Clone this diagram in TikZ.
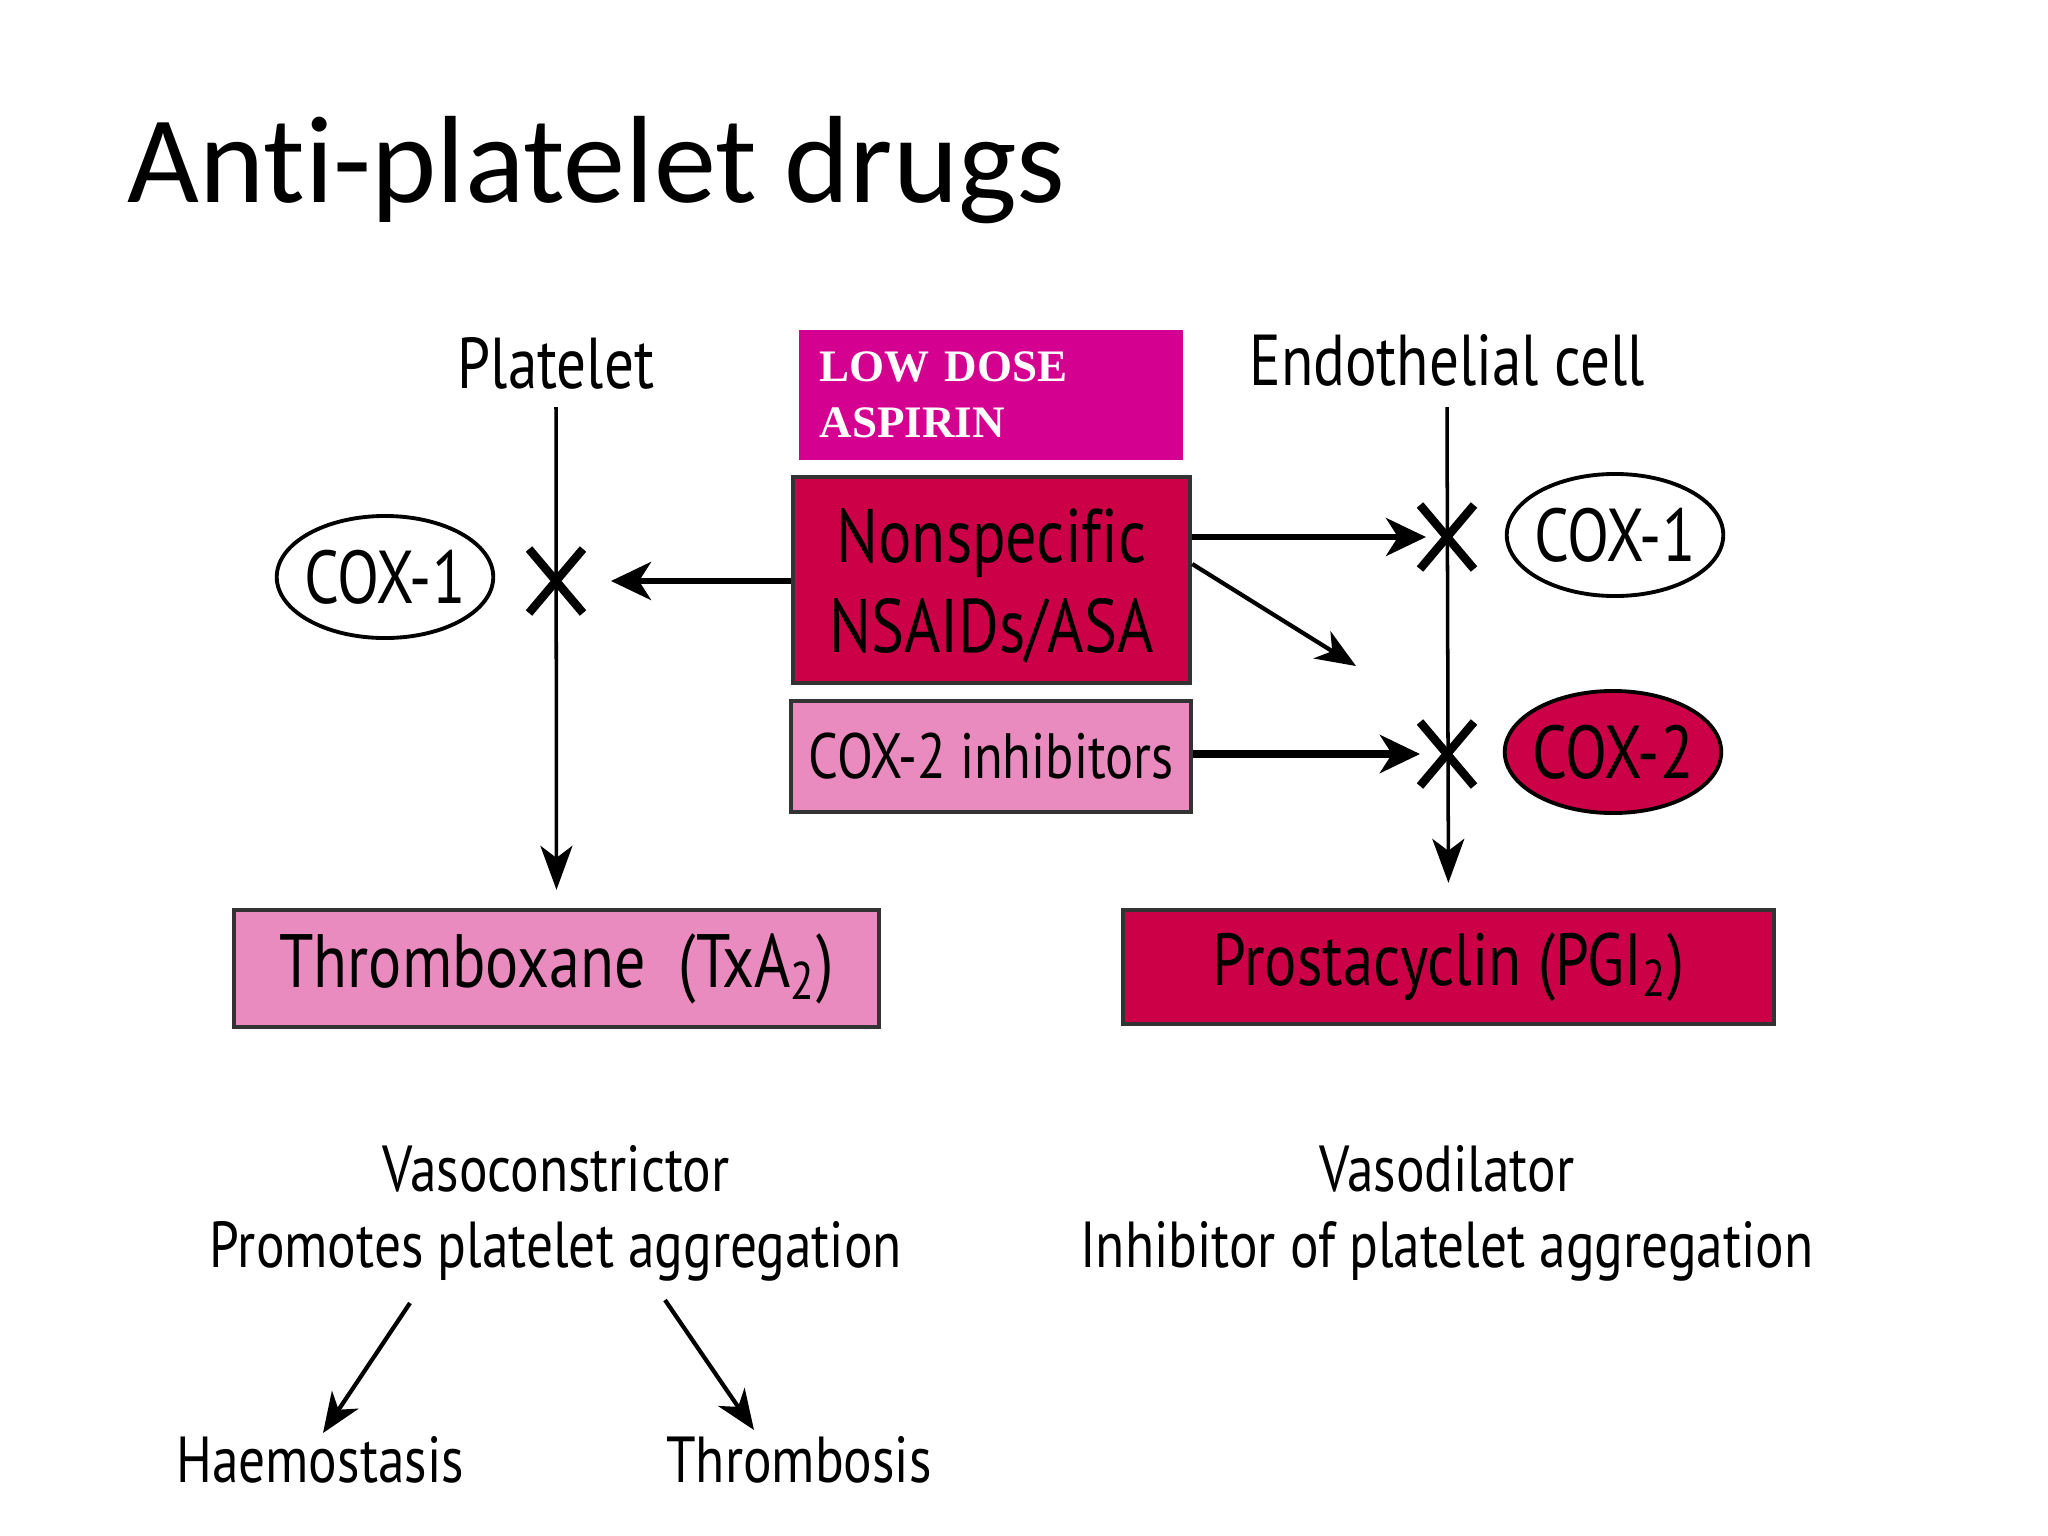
\documentclass[tikz,border=0pt]{standalone}
\usepackage{fontspec}
\usetikzlibrary{arrows.meta,shapes.geometric,shapes.misc}
\setmainfont{PT Sans}[FakeStretch=0.82,Ligatures={NoCommon}]
\newfontfamily\titlefont{Carlito}[Ligatures={NoCommon}]
\newfontfamily\ldfont{Liberation Serif}
\definecolor{mag}{HTML}{D4008F}
\definecolor{crim}{HTML}{CC0047}
\definecolor{pnk}{HTML}{E98BBE}
\begin{document}
\begin{tikzpicture}[x=0.01cm,y=-0.01cm,
  lbl/.style={font=\fontsize{20.5}{24}\selectfont, inner sep=0},
  lbls/.style={font=\fontsize{18.5}{22}\selectfont, inner sep=0},
  box/.style={draw=black!80, line width=1.2pt, inner sep=0},
  ell/.style={ellipse, draw, line width=1.1pt, inner ysep=0, inner xsep=-0.4mm, minimum width=2.16cm, minimum height=1.22cm, font=\fontsize{21.3}{25}\selectfont},
  xmark/.style={cross out, draw, line width=2.4pt, minimum width=5.4mm, minimum height=6.4mm, inner sep=0, outer sep=0},
  vline/.style={line width=1pt, -{Stealth[length=4.4mm,width=3.2mm,inset=1.2mm]}},
  arr/.style={line width=1.6pt, -{Stealth[length=4mm,width=3.8mm,inset=1.2mm]}},
  thinarr/.style={line width=1.2pt, -{Stealth[length=4mm,width=3.2mm,inset=1.2mm]}}
]
\useasboundingbox (0,0) rectangle (2048,1536);

% title
\node[anchor=base west, font=\titlefont\fontsize{35.3}{40}\selectfont, inner sep=0] (title) at (127,202) {Anti-platelet drugs};

% column headers
\node[lbl, anchor=base] (plt) at (556,388) {Platelet};
\node[lbl, anchor=base] (endo) at (1447,385) {Endothelial cell};

% drug boxes
\node[fill=mag, minimum width=3.84cm, minimum height=1.3cm, inner ysep=0, inner xsep=0.21cm, text width=3.42cm, align=left, text=white, font=\ldfont\bfseries\fontsize{12.8}{15.8}\selectfont] (lda) at (991,395) {LOW DOSE\\ASPIRIN};
\node[box, fill=crim, minimum width=3.97cm, minimum height=2.06cm, align=center, text depth=0pt, font=\fontsize{21.6}{25.6}\selectfont] (ns) at (991.5,580) {Nonspecific\\NSAIDs/ASA};
\node[box, fill=pnk, minimum width=4cm, minimum height=1.11cm, font=\fontsize{18.2}{22}\selectfont] (c2i) at (991,756.5) {COX-2 inhibitors};

% product boxes
\node[box, fill=pnk, minimum width=6.45cm, minimum height=1.17cm, font=\fontsize{21.5}{24}\selectfont] (tbx) at (556.5,968.5) {Thromboxane\ \ (TxA\textsubscript{2})};
\node[box, fill=crim, minimum width=6.51cm, minimum height=1.14cm, font=\fontsize{21}{24}\selectfont] (pbx) at (1448.5,967) {Prostacyclin (PGI\textsubscript{2})};

% enzymes
\node[ell] (cox1l) at (385,577) {COX-1};
\node[ell] (cox1r) at (1615,535) {COX-1};
\node[ell, fill=crim] (cox2) at (1613,752) {COX-2};

% pathway lines
\coordinate (ptop) at (556,407);
\coordinate (etop) at (1447,407);
\draw[vline, shorten >=1.8mm] (ptop) -- (tbx.north);
\draw[vline, shorten >=2.5mm] (etop) -- (pbx.north);

% inhibition marks
\node[xmark] (xl) at (556,581) {};
\node[xmark] (xr1) at (1447,537) {};
\node[xmark] (xr2) at (1447,754) {};

% inhibition arrows
\coordinate (xlt) at (611,581);
\coordinate (xr1t) at (1426,537);
\coordinate (xr2t) at (1420,754);
\coordinate (dgt) at (1356,666);
\draw[arr] (ns.west |- xl) -- (xlt);
\draw[arr] (ns.east |- xr1) -- (xr1t);
\draw[arr, line width=2.3pt] (c2i.east |- xr2) -- (xr2t);
\draw[thinarr] ([yshift=1.6mm]ns.east) -- (dgt);

% effects
\node[lbls, anchor=base] (vc) at (556,1191) {Vasoconstrictor};
\node[lbls, anchor=base] (ppa) at (556,1267) {Promotes platelet aggregation};
\node[lbls, anchor=base] (vd) at (1447,1191) {Vasodilator};
\node[lbls, anchor=base] (ipa) at (1447,1267) {Inhibitor of platelet aggregation};
\node[lbls, anchor=base] (hae) at (320,1482) {Haemostasis};
\node[lbls, anchor=base] (thr) at (799,1482) {Thrombosis};
\coordinate (a1s) at (410,1303);
\coordinate (a1e) at (323,1433);
\coordinate (a2s) at (665,1300);
\coordinate (a2e) at (754,1430);
\draw[thinarr] (a1s) -- (a1e);
\draw[thinarr] (a2s) -- (a2e);
\end{tikzpicture}
\end{document}
